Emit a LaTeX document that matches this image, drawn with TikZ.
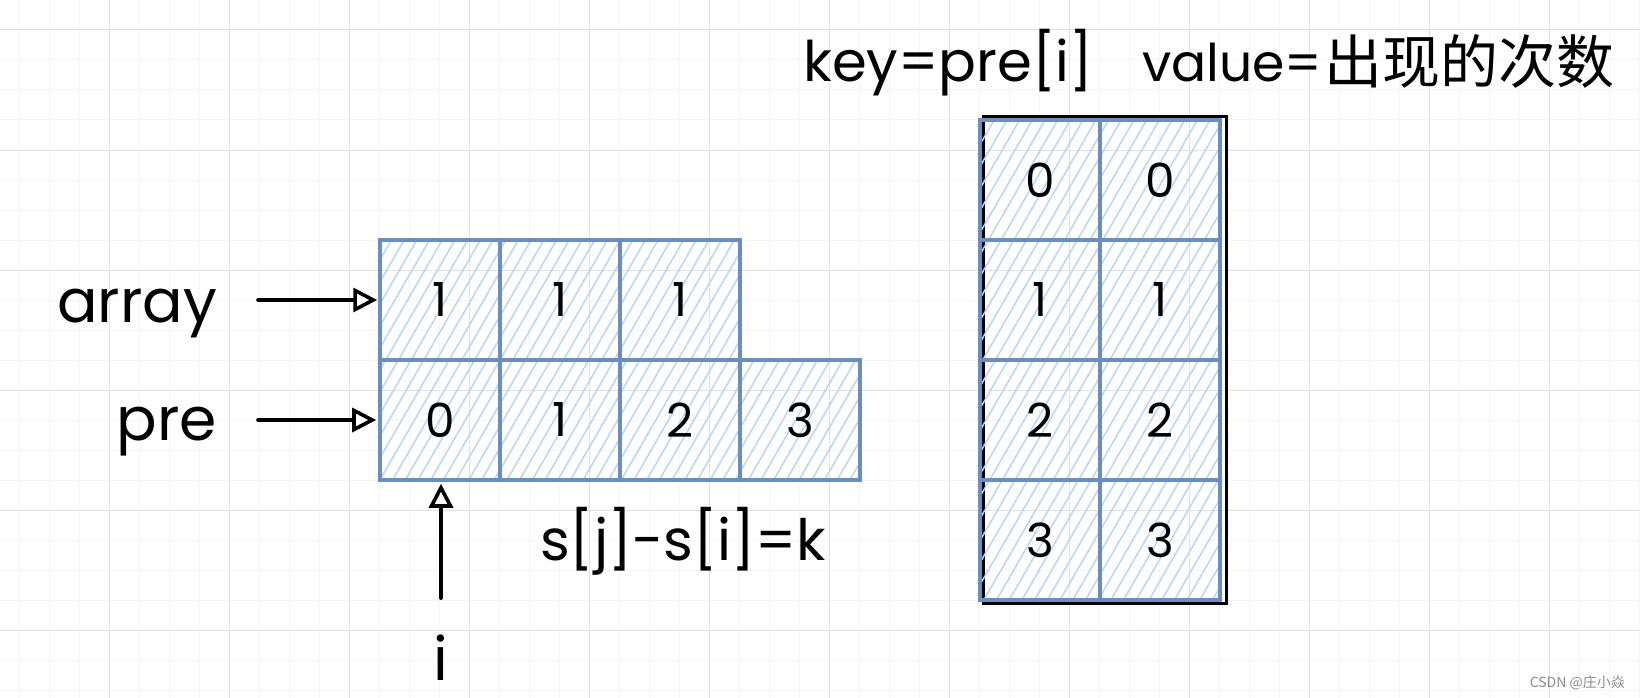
\documentclass[tikz,border=0pt]{standalone}
\usepackage{fontspec}
\setmainfont{Poppins}
\newfontfamily\cjk{Noto Sans CJK SC}
\usetikzlibrary{arrows.meta,patterns.meta}
\definecolor{gridminor}{RGB}{245,245,245}
\definecolor{gridmajor}{RGB}{226,226,226}
\definecolor{cellblue}{RGB}{108,142,191}
\definecolor{hatch}{RGB}{186,212,248}
\definecolor{wm}{RGB}{140,140,140}
\tikzset{
  cell/.style={draw=cellblue, line width=3.6pt, minimum width=120pt, minimum height=120pt,
    inner sep=0pt, pattern={Lines[angle=60,distance=11pt,line width=1.5pt]}, pattern color=hatch,
    font=\fontsize{47}{56}\selectfont},
  lbl/.style={inner sep=0pt, font=\fontsize{60}{72}\selectfont},
  arr/.style={line width=3.6pt, line cap=round, -{Triangle[open,length=24pt,width=24pt]}},
}
\begin{document}
\begin{tikzpicture}[x=1pt,y=-1pt]
\useasboundingbox (0,0) rectangle (1640,698);
\fill[white] (0,0) rectangle (1640,698);
% grid
\foreach \x in {19,49,...,1639} \draw[gridminor, line width=1pt] (\x,0) -- (\x,698);
\foreach \y in {0,30,...,690} \draw[gridminor, line width=1pt] (0,\y) -- (1640,\y);
\foreach \x in {109,229,...,1549} \draw[gridmajor, line width=1pt] (\x,0) -- (\x,698);
\foreach \y in {30,150,...,630} \draw[gridmajor, line width=1pt] (0,\y) -- (1640,\y);
% left table
\node[cell] (a0) at (440,300) {1};
\node[cell] (a1) at (560,300) {1};
\node[cell] (a2) at (680,300) {1};
\node[cell] (p0) at (440,420) {0};
\node[cell] (p1) at (560,420) {1};
\node[cell] (p2) at (680,420) {2};
\node[cell] (p3) at (800,420) {3};
% right table
\draw[black, line width=3pt] (983,117) rectangle (1226,603);
\node[cell] (r00) at (1040,180) {0};
\node[cell] (r01) at (1160,180) {0};
\node[cell] (r10) at (1040,300) {1};
\node[cell] (r11) at (1160,300) {1};
\node[cell] (r20) at (1040,420) {2};
\node[cell] (r21) at (1160,420) {2};
\node[cell] (r30) at (1040,540) {3};
\node[cell] (r31) at (1160,540) {3};
% labels
\node[lbl, anchor=base east] (lblarray) at (217,322) {array};
\node[lbl, anchor=base east] (lblpre) at (217,440) {pre};
\node[lbl, anchor=base] (lbli) at (441,680) {i};
\node[lbl, anchor=base west, font=\fontsize{57}{68}\selectfont] (eq) at (540,560) {s[j]-s[i]=k};
\node[lbl, anchor=base west, font=\fontsize{56}{66}\selectfont] (key) at (803,82) {key=pre[i]};
\node[lbl, anchor=base west, font=\fontsize{52}{62}\selectfont] (val) at (1142,82) {value=};
\node[lbl, anchor=base west, font=\cjk\fontsize{58}{68}\selectfont] (valcn) at ([xshift=2pt,yshift=-2pt]val.base east) {出现的次数};
\node[inner sep=0pt, anchor=base east, text=wm, font=\cjk\fontsize{14}{16}\selectfont] (wmark) at (1625,687) {CSDN @庄小焱};
% arrows
\draw[arr, shorten <=41pt, shorten >=2pt] (lblarray.east |- a0.west) -- (a0.west);
\draw[arr, shorten <=41pt, shorten >=2pt] (lblpre.east |- p0.west) -- (p0.west);
\draw[arr, shorten <=36pt, shorten >=2pt] (lbli.north) -- (lbli.north |- p0.south);
\end{tikzpicture}
\end{document}
